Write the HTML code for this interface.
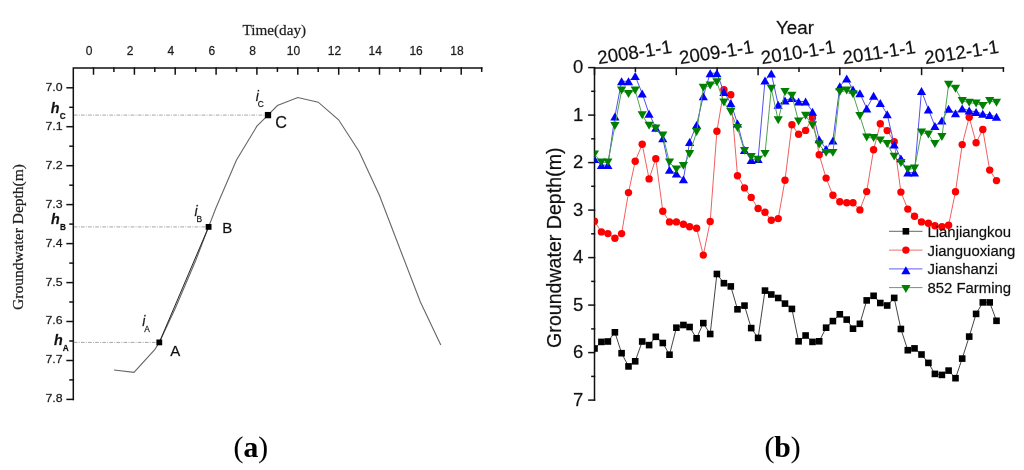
<!DOCTYPE html>
<html><head><meta charset="utf-8"><title>Groundwater depth figure</title>
<style>html,body{margin:0;padding:0;background:#fff;} svg{display:block;} text{stroke:#000;stroke-width:0.35px;stroke-opacity:0.55;}</style></head>
<body>
<svg width="1024" height="470" viewBox="0 0 1024 470">
<rect width="1024" height="470" fill="#fff"/>
<g stroke="#111" stroke-width="1.5" fill="none" stroke-linecap="square">
<path d="M73.3,399.4 V68.0 H481.7"/>
<path d="M93.5,68.0 v6"/>
<path d="M113.9,68.0 v3.2"/>
<path d="M134.4,68.0 v6"/>
<path d="M154.8,68.0 v3.2"/>
<path d="M175.2,68.0 v6"/>
<path d="M195.7,68.0 v3.2"/>
<path d="M216.1,68.0 v6"/>
<path d="M236.5,68.0 v3.2"/>
<path d="M256.9,68.0 v6"/>
<path d="M277.4,68.0 v3.2"/>
<path d="M297.8,68.0 v6"/>
<path d="M318.2,68.0 v3.2"/>
<path d="M338.7,68.0 v6"/>
<path d="M359.1,68.0 v3.2"/>
<path d="M379.5,68.0 v6"/>
<path d="M399.9,68.0 v3.2"/>
<path d="M420.4,68.0 v6"/>
<path d="M440.8,68.0 v3.2"/>
<path d="M461.2,68.0 v6"/>
<path d="M481.7,68.0 v3.2"/>
<path d="M73.3,87.8 h-6.2"/>
<path d="M73.3,107.3 h-3.3"/>
<path d="M73.3,126.7 h-6.2"/>
<path d="M73.3,146.2 h-3.3"/>
<path d="M73.3,165.7 h-6.2"/>
<path d="M73.3,185.2 h-3.3"/>
<path d="M73.3,204.6 h-6.2"/>
<path d="M73.3,224.1 h-3.3"/>
<path d="M73.3,243.6 h-6.2"/>
<path d="M73.3,263.1 h-3.3"/>
<path d="M73.3,282.6 h-6.2"/>
<path d="M73.3,302.0 h-3.3"/>
<path d="M73.3,321.5 h-6.2"/>
<path d="M73.3,341.0 h-3.3"/>
<path d="M73.3,360.5 h-6.2"/>
<path d="M73.3,379.9 h-3.3"/>
<path d="M73.3,399.4 h-6.2"/>
</g>
<g font-family="Liberation Sans, Arial, sans-serif" font-size="12" fill="#222" text-anchor="middle">
<text x="89.2" y="54.5">0</text>
<text x="130.1" y="54.5">2</text>
<text x="170.9" y="54.5">4</text>
<text x="211.8" y="54.5">6</text>
<text x="252.6" y="54.5">8</text>
<text x="293.5" y="54.5">10</text>
<text x="334.4" y="54.5">12</text>
<text x="375.2" y="54.5">14</text>
<text x="416.1" y="54.5">16</text>
<text x="456.9" y="54.5">18</text>
</g>
<g font-family="Liberation Sans, Arial, sans-serif" font-size="11" fill="#222" text-anchor="end">
<text x="62.5" y="90.8" transform="translate(62.5 0) scale(1.12 1) translate(-62.5 0)">7.0</text>
<text x="62.5" y="129.7" transform="translate(62.5 0) scale(1.12 1) translate(-62.5 0)">7.1</text>
<text x="62.5" y="168.7" transform="translate(62.5 0) scale(1.12 1) translate(-62.5 0)">7.2</text>
<text x="62.5" y="207.6" transform="translate(62.5 0) scale(1.12 1) translate(-62.5 0)">7.3</text>
<text x="62.5" y="246.6" transform="translate(62.5 0) scale(1.12 1) translate(-62.5 0)">7.4</text>
<text x="62.5" y="285.6" transform="translate(62.5 0) scale(1.12 1) translate(-62.5 0)">7.5</text>
<text x="62.5" y="324.5" transform="translate(62.5 0) scale(1.12 1) translate(-62.5 0)">7.6</text>
<text x="62.5" y="363.5" transform="translate(62.5 0) scale(1.12 1) translate(-62.5 0)">7.7</text>
<text x="62.5" y="402.4" transform="translate(62.5 0) scale(1.12 1) translate(-62.5 0)">7.8</text>
</g>
<text x="242.5" y="35.2" font-family="Liberation Serif, Times New Roman, serif" font-size="15.2" fill="#222">Time(day)</text>
<text transform="translate(22.6 237.0) rotate(-90)" text-anchor="middle" font-family="Liberation Serif, Times New Roman, serif" font-size="15.5" fill="#222">Groundwater Depth(m)</text>
<g stroke="#9a9a9a" stroke-width="0.9" stroke-dasharray="3.6 1.3 0.9 1.3" fill="none">
<path d="M73.89999999999999,342.4 H159.3"/>
<path d="M73.89999999999999,226.9 H208.6"/>
<path d="M73.89999999999999,115.1 H268.0"/>
</g>
<polyline fill="none" stroke="#666" stroke-width="1.1" points="114,370 134,372.3 154.7,349.7 159.3,342.4 175.2,308.5 195.7,260.5 208.6,226.9 216.1,207.5 236.5,160 256.9,126.2 268.0,115.1 277.4,105.5 297.8,97.5 318.2,102.2 338.6,119.8 359.1,151.5 379.5,195.5 400,249 420.4,302 440.8,345"/>
<path d="M159.3,342.4 L208.6,226.9" stroke="#222" stroke-width="1"/>
<rect x="156.40" y="339.50" width="5.8" height="5.8" fill="#000"/>
<rect x="205.70" y="224.00" width="5.8" height="5.8" fill="#000"/>
<rect x="264.85" y="111.95" width="6.3" height="6.3" fill="#000"/>
<g font-family="Liberation Sans, Arial, sans-serif" font-size="15" fill="#111">
<text x="170.2" y="356.0">A</text>
<text x="222.3" y="232.9">B</text>
<text x="275.2" y="127.7" font-size="16.2">C</text>
</g>
<text x="142.2" y="326.2" font-family="Liberation Sans, Arial, sans-serif" font-style="italic" font-size="14" fill="#222">i</text>
<text x="144.2" y="332.3" font-family="Liberation Sans, Arial, sans-serif" font-size="8.4" fill="#222">A</text>
<text x="194.4" y="215.8" font-family="Liberation Sans, Arial, sans-serif" font-style="italic" font-size="14" fill="#222">i</text>
<text x="196.4" y="221.9" font-family="Liberation Sans, Arial, sans-serif" font-size="8.4" fill="#222">B</text>
<text x="255.8" y="100.6" font-family="Liberation Sans, Arial, sans-serif" font-style="italic" font-size="14" fill="#222">i</text>
<text x="257.8" y="106.69999999999999" font-family="Liberation Sans, Arial, sans-serif" font-size="8.4" fill="#222">C</text>
<text x="50.8" y="113.0" font-family="Liberation Sans, Arial, sans-serif" font-style="italic" font-weight="bold" font-size="14.3" fill="#111">h</text>
<text x="59.699999999999996" y="119.0" font-family="Liberation Sans, Arial, sans-serif" font-weight="bold" font-size="8.2" fill="#111">C</text>
<text x="51.0" y="224.3" font-family="Liberation Sans, Arial, sans-serif" font-style="italic" font-weight="bold" font-size="14.3" fill="#111">h</text>
<text x="59.9" y="230.3" font-family="Liberation Sans, Arial, sans-serif" font-weight="bold" font-size="8.2" fill="#111">B</text>
<text x="53.9" y="345.2" font-family="Liberation Sans, Arial, sans-serif" font-style="italic" font-weight="bold" font-size="14.3" fill="#111">h</text>
<text x="62.8" y="351.2" font-family="Liberation Sans, Arial, sans-serif" font-weight="bold" font-size="8.2" fill="#111">A</text>
<g stroke="#111" stroke-width="1.5" fill="none" stroke-linecap="square">
<path d="M594.5,400.1 V68.0 H1003.4"/>
<path d="M594.5,68.0 v6.4"/>
<path d="M635.4,68.0 v3.2"/>
<path d="M676.3,68.0 v6.4"/>
<path d="M717.2,68.0 v3.2"/>
<path d="M758.1,68.0 v6.4"/>
<path d="M799.0,68.0 v3.2"/>
<path d="M839.8,68.0 v6.4"/>
<path d="M880.7,68.0 v3.2"/>
<path d="M921.6,68.0 v6.4"/>
<path d="M962.5,68.0 v3.2"/>
<path d="M1003.4,68.0 v3.2"/>
<path d="M594.5,67.6 h-5.6"/>
<path d="M594.5,91.3 h-2.6"/>
<path d="M594.5,115.1 h-5.6"/>
<path d="M594.5,138.8 h-2.6"/>
<path d="M594.5,162.6 h-5.6"/>
<path d="M594.5,186.3 h-2.6"/>
<path d="M594.5,210.1 h-5.6"/>
<path d="M594.5,233.8 h-2.6"/>
<path d="M594.5,257.6 h-5.6"/>
<path d="M594.5,281.4 h-2.6"/>
<path d="M594.5,305.1 h-5.6"/>
<path d="M594.5,328.9 h-2.6"/>
<path d="M594.5,352.6 h-5.6"/>
<path d="M594.5,376.4 h-2.6"/>
<path d="M594.5,400.1 h-5.6"/>
</g>
<g font-family="Liberation Sans, Arial, sans-serif" font-size="18.5" fill="#111" text-anchor="end">
<text x="583.3" y="73.0">0</text>
<text x="583.3" y="120.5">1</text>
<text x="583.3" y="168.0">2</text>
<text x="583.3" y="215.5">3</text>
<text x="583.3" y="263.0">4</text>
<text x="583.3" y="310.5">5</text>
<text x="583.3" y="358.0">6</text>
<text x="583.3" y="405.5">7</text>
</g>
<g font-family="Liberation Sans, Arial, sans-serif" font-size="18.7" fill="#111">
<text transform="translate(598.5 64.2) rotate(-8.8)">2008-1-1</text>
<text transform="translate(680.3 64.2) rotate(-8.8)">2009-1-1</text>
<text transform="translate(762.1 64.2) rotate(-8.8)">2010-1-1</text>
<text transform="translate(843.8 64.2) rotate(-8.8)">2011-1-1</text>
<text transform="translate(925.6 64.2) rotate(-8.8)">2012-1-1</text>
</g>
<text x="776" y="33.5" font-family="Liberation Sans, Arial, sans-serif" font-size="18.8" fill="#111">Year</text>
<text transform="translate(560.5 247.7) rotate(-90)" text-anchor="middle" font-family="Liberation Sans, Arial, sans-serif" font-size="19.6" fill="#111">Groundwater Depth(m)</text>
<defs><clipPath id="pc"><rect x="594.5" y="62.0" width="416.9" height="344.1"/></clipPath></defs>
<g clip-path="url(#pc)">
<polyline fill="none" stroke="#444" stroke-width="1" points="594.5,348.5 601.4,341.9 607.9,341.5 614.9,332.3 621.6,353.2 628.5,366.4 635.2,361.3 642.2,341.5 649.1,345.1 655.8,336.8 662.8,343 669.5,354.7 676.4,327.7 683.4,325 689.6,327 696.6,338.3 703.3,323.1 710.2,334 716.9,274 723.9,283.2 730.8,286.4 737.5,309.3 744.5,305.6 751.2,328.1 758.1,337.9 765.0,290.6 771.3,294.5 778.2,298 785.0,303.6 791.9,308.9 798.6,341.3 805.6,335.5 812.5,341.9 819.2,341.3 826.1,327.7 832.9,321.1 839.8,314.3 846.7,319.6 853.0,328.7 859.9,323.8 866.7,300.4 873.6,295.8 880.3,303 887.2,305.5 894.2,297.9 900.9,329 907.8,350.2 914.5,348.4 921.5,354.5 928.4,362.9 934.9,373.9 941.9,374.9 948.6,370.6 955.5,378.2 962.2,358.6 969.2,336.6 976.1,313.9 982.8,302.4 989.7,302.4 996.5,320.8"/>
<rect x="591.2" y="345.2" width="6.6" height="6.6" fill="#000"/>
<rect x="598.1" y="338.6" width="6.6" height="6.6" fill="#000"/>
<rect x="604.6" y="338.2" width="6.6" height="6.6" fill="#000"/>
<rect x="611.6" y="329.0" width="6.6" height="6.6" fill="#000"/>
<rect x="618.3" y="349.9" width="6.6" height="6.6" fill="#000"/>
<rect x="625.2" y="363.1" width="6.6" height="6.6" fill="#000"/>
<rect x="631.9" y="358.0" width="6.6" height="6.6" fill="#000"/>
<rect x="638.9" y="338.2" width="6.6" height="6.6" fill="#000"/>
<rect x="645.8" y="341.8" width="6.6" height="6.6" fill="#000"/>
<rect x="652.5" y="333.5" width="6.6" height="6.6" fill="#000"/>
<rect x="659.5" y="339.7" width="6.6" height="6.6" fill="#000"/>
<rect x="666.2" y="351.4" width="6.6" height="6.6" fill="#000"/>
<rect x="673.1" y="324.4" width="6.6" height="6.6" fill="#000"/>
<rect x="680.1" y="321.7" width="6.6" height="6.6" fill="#000"/>
<rect x="686.3" y="323.7" width="6.6" height="6.6" fill="#000"/>
<rect x="693.3" y="335.0" width="6.6" height="6.6" fill="#000"/>
<rect x="700.0" y="319.8" width="6.6" height="6.6" fill="#000"/>
<rect x="706.9" y="330.7" width="6.6" height="6.6" fill="#000"/>
<rect x="713.6" y="270.7" width="6.6" height="6.6" fill="#000"/>
<rect x="720.6" y="279.9" width="6.6" height="6.6" fill="#000"/>
<rect x="727.5" y="283.1" width="6.6" height="6.6" fill="#000"/>
<rect x="734.2" y="306.0" width="6.6" height="6.6" fill="#000"/>
<rect x="741.2" y="302.3" width="6.6" height="6.6" fill="#000"/>
<rect x="747.9" y="324.8" width="6.6" height="6.6" fill="#000"/>
<rect x="754.8" y="334.6" width="6.6" height="6.6" fill="#000"/>
<rect x="761.7" y="287.3" width="6.6" height="6.6" fill="#000"/>
<rect x="768.0" y="291.2" width="6.6" height="6.6" fill="#000"/>
<rect x="774.9" y="294.7" width="6.6" height="6.6" fill="#000"/>
<rect x="781.7" y="300.3" width="6.6" height="6.6" fill="#000"/>
<rect x="788.6" y="305.6" width="6.6" height="6.6" fill="#000"/>
<rect x="795.3" y="338.0" width="6.6" height="6.6" fill="#000"/>
<rect x="802.3" y="332.2" width="6.6" height="6.6" fill="#000"/>
<rect x="809.2" y="338.6" width="6.6" height="6.6" fill="#000"/>
<rect x="815.9" y="338.0" width="6.6" height="6.6" fill="#000"/>
<rect x="822.8" y="324.4" width="6.6" height="6.6" fill="#000"/>
<rect x="829.6" y="317.8" width="6.6" height="6.6" fill="#000"/>
<rect x="836.5" y="311.0" width="6.6" height="6.6" fill="#000"/>
<rect x="843.4" y="316.3" width="6.6" height="6.6" fill="#000"/>
<rect x="849.7" y="325.4" width="6.6" height="6.6" fill="#000"/>
<rect x="856.6" y="320.5" width="6.6" height="6.6" fill="#000"/>
<rect x="863.4" y="297.1" width="6.6" height="6.6" fill="#000"/>
<rect x="870.3" y="292.5" width="6.6" height="6.6" fill="#000"/>
<rect x="877.0" y="299.7" width="6.6" height="6.6" fill="#000"/>
<rect x="883.9" y="302.2" width="6.6" height="6.6" fill="#000"/>
<rect x="890.9" y="294.6" width="6.6" height="6.6" fill="#000"/>
<rect x="897.6" y="325.7" width="6.6" height="6.6" fill="#000"/>
<rect x="904.5" y="346.9" width="6.6" height="6.6" fill="#000"/>
<rect x="911.2" y="345.1" width="6.6" height="6.6" fill="#000"/>
<rect x="918.2" y="351.2" width="6.6" height="6.6" fill="#000"/>
<rect x="925.1" y="359.6" width="6.6" height="6.6" fill="#000"/>
<rect x="931.6" y="370.6" width="6.6" height="6.6" fill="#000"/>
<rect x="938.6" y="371.6" width="6.6" height="6.6" fill="#000"/>
<rect x="945.3" y="367.3" width="6.6" height="6.6" fill="#000"/>
<rect x="952.2" y="374.9" width="6.6" height="6.6" fill="#000"/>
<rect x="958.9" y="355.3" width="6.6" height="6.6" fill="#000"/>
<rect x="965.9" y="333.3" width="6.6" height="6.6" fill="#000"/>
<rect x="972.8" y="310.6" width="6.6" height="6.6" fill="#000"/>
<rect x="979.5" y="299.1" width="6.6" height="6.6" fill="#000"/>
<rect x="986.4" y="299.1" width="6.6" height="6.6" fill="#000"/>
<rect x="993.2" y="317.5" width="6.6" height="6.6" fill="#000"/>
<polyline fill="none" stroke="#f06060" stroke-width="1" points="594.5,221.3 601.4,231.9 607.9,233.6 614.9,238.3 621.6,233.6 628.5,192.6 635.2,161.3 642.2,144.3 649.1,178.9 655.8,158.7 662.8,211.3 669.5,221.9 676.4,221.9 683.4,224.3 689.6,226.8 696.6,228.3 703.3,255.1 710.2,221.5 716.9,131.3 723.9,89.8 730.8,94.7 737.5,175.7 744.5,187.9 751.2,197.4 758.1,208.5 765.0,212.3 771.3,220.3 778.2,218.6 785.0,180.2 791.9,124.7 798.6,134.3 805.6,130.4 812.5,117.7 819.2,154.7 826.1,178.1 832.9,195.3 839.8,201.7 846.7,202.8 853.0,202.8 859.9,209.9 866.7,191.6 873.6,149.8 880.3,123.8 887.2,130.6 894.2,141.8 900.9,192.1 907.8,209.1 914.5,216.2 921.5,221.9 928.4,223.2 934.9,225.7 941.9,226.7 948.6,225.3 955.5,191.7 962.2,144.6 969.2,117.3 976.1,142.7 982.8,129.5 989.7,170.1 996.5,180.6"/>
<circle cx="594.5" cy="221.3" r="3.7" fill="#f00"/>
<circle cx="601.4" cy="231.9" r="3.7" fill="#f00"/>
<circle cx="607.9" cy="233.6" r="3.7" fill="#f00"/>
<circle cx="614.9" cy="238.3" r="3.7" fill="#f00"/>
<circle cx="621.6" cy="233.6" r="3.7" fill="#f00"/>
<circle cx="628.5" cy="192.6" r="3.7" fill="#f00"/>
<circle cx="635.2" cy="161.3" r="3.7" fill="#f00"/>
<circle cx="642.2" cy="144.3" r="3.7" fill="#f00"/>
<circle cx="649.1" cy="178.9" r="3.7" fill="#f00"/>
<circle cx="655.8" cy="158.7" r="3.7" fill="#f00"/>
<circle cx="662.8" cy="211.3" r="3.7" fill="#f00"/>
<circle cx="669.5" cy="221.9" r="3.7" fill="#f00"/>
<circle cx="676.4" cy="221.9" r="3.7" fill="#f00"/>
<circle cx="683.4" cy="224.3" r="3.7" fill="#f00"/>
<circle cx="689.6" cy="226.8" r="3.7" fill="#f00"/>
<circle cx="696.6" cy="228.3" r="3.7" fill="#f00"/>
<circle cx="703.3" cy="255.1" r="3.7" fill="#f00"/>
<circle cx="710.2" cy="221.5" r="3.7" fill="#f00"/>
<circle cx="716.9" cy="131.3" r="3.7" fill="#f00"/>
<circle cx="723.9" cy="89.8" r="3.7" fill="#f00"/>
<circle cx="730.8" cy="94.7" r="3.7" fill="#f00"/>
<circle cx="737.5" cy="175.7" r="3.7" fill="#f00"/>
<circle cx="744.5" cy="187.9" r="3.7" fill="#f00"/>
<circle cx="751.2" cy="197.4" r="3.7" fill="#f00"/>
<circle cx="758.1" cy="208.5" r="3.7" fill="#f00"/>
<circle cx="765.0" cy="212.3" r="3.7" fill="#f00"/>
<circle cx="771.3" cy="220.3" r="3.7" fill="#f00"/>
<circle cx="778.2" cy="218.6" r="3.7" fill="#f00"/>
<circle cx="785.0" cy="180.2" r="3.7" fill="#f00"/>
<circle cx="791.9" cy="124.7" r="3.7" fill="#f00"/>
<circle cx="798.6" cy="134.3" r="3.7" fill="#f00"/>
<circle cx="805.6" cy="130.4" r="3.7" fill="#f00"/>
<circle cx="812.5" cy="117.7" r="3.7" fill="#f00"/>
<circle cx="819.2" cy="154.7" r="3.7" fill="#f00"/>
<circle cx="826.1" cy="178.1" r="3.7" fill="#f00"/>
<circle cx="832.9" cy="195.3" r="3.7" fill="#f00"/>
<circle cx="839.8" cy="201.7" r="3.7" fill="#f00"/>
<circle cx="846.7" cy="202.8" r="3.7" fill="#f00"/>
<circle cx="853.0" cy="202.8" r="3.7" fill="#f00"/>
<circle cx="859.9" cy="209.9" r="3.7" fill="#f00"/>
<circle cx="866.7" cy="191.6" r="3.7" fill="#f00"/>
<circle cx="873.6" cy="149.8" r="3.7" fill="#f00"/>
<circle cx="880.3" cy="123.8" r="3.7" fill="#f00"/>
<circle cx="887.2" cy="130.6" r="3.7" fill="#f00"/>
<circle cx="894.2" cy="141.8" r="3.7" fill="#f00"/>
<circle cx="900.9" cy="192.1" r="3.7" fill="#f00"/>
<circle cx="907.8" cy="209.1" r="3.7" fill="#f00"/>
<circle cx="914.5" cy="216.2" r="3.7" fill="#f00"/>
<circle cx="921.5" cy="221.9" r="3.7" fill="#f00"/>
<circle cx="928.4" cy="223.2" r="3.7" fill="#f00"/>
<circle cx="934.9" cy="225.7" r="3.7" fill="#f00"/>
<circle cx="941.9" cy="226.7" r="3.7" fill="#f00"/>
<circle cx="948.6" cy="225.3" r="3.7" fill="#f00"/>
<circle cx="955.5" cy="191.7" r="3.7" fill="#f00"/>
<circle cx="962.2" cy="144.6" r="3.7" fill="#f00"/>
<circle cx="969.2" cy="117.3" r="3.7" fill="#f00"/>
<circle cx="976.1" cy="142.7" r="3.7" fill="#f00"/>
<circle cx="982.8" cy="129.5" r="3.7" fill="#f00"/>
<circle cx="989.7" cy="170.1" r="3.7" fill="#f00"/>
<circle cx="996.5" cy="180.6" r="3.7" fill="#f00"/>
<polyline fill="none" stroke="#5050f0" stroke-width="1" points="594.5,159.1 601.4,165.1 607.9,165.1 614.9,116.4 621.6,81.3 628.5,81.3 635.2,76 642.2,93.6 649.1,113.8 655.8,127.7 662.8,138.3 669.5,169.8 676.4,173.6 683.4,179.4 689.6,142 696.6,124.9 703.3,96.2 710.2,73.2 716.9,73.2 723.9,91.9 730.8,103.2 737.5,123.4 744.5,150 751.2,160.2 758.1,159.1 765.0,80.4 771.3,73.4 778.2,104.7 785.0,100.6 791.9,98 798.6,101.5 805.6,101.5 812.5,111.7 819.2,139.4 826.1,148.9 832.9,140.6 839.8,86.2 846.7,78.5 853.0,89.6 859.9,93.2 866.7,108.4 873.6,95.8 880.3,103 887.2,114.3 894.2,144.5 900.9,158.4 907.8,172.6 914.5,172.6 921.5,90.9 928.4,109.4 934.9,126 941.9,120.6 948.6,108.8 955.5,113.2 962.2,108.4 969.2,110.6 976.1,111.9 982.8,113.8 989.7,115.1 996.5,116.7"/>
<path d="M594.5,155.2 L599.1,163.0 L589.9,163.0Z" fill="#00f"/>
<path d="M601.4,161.2 L606.0,169.0 L596.8,169.0Z" fill="#00f"/>
<path d="M607.9,161.2 L612.5,169.0 L603.3,169.0Z" fill="#00f"/>
<path d="M614.9,112.5 L619.5,120.4 L610.3,120.4Z" fill="#00f"/>
<path d="M621.6,77.3 L626.2,85.2 L617.0,85.2Z" fill="#00f"/>
<path d="M628.5,77.3 L633.1,85.2 L623.9,85.2Z" fill="#00f"/>
<path d="M635.2,72.0 L639.8,80.0 L630.6,80.0Z" fill="#00f"/>
<path d="M642.2,89.6 L646.8,97.5 L637.6,97.5Z" fill="#00f"/>
<path d="M649.1,109.8 L653.7,117.8 L644.5,117.8Z" fill="#00f"/>
<path d="M655.8,123.8 L660.4,131.7 L651.2,131.7Z" fill="#00f"/>
<path d="M662.8,134.4 L667.4,142.2 L658.2,142.2Z" fill="#00f"/>
<path d="M669.5,165.9 L674.1,173.8 L664.9,173.8Z" fill="#00f"/>
<path d="M676.4,169.7 L681.0,177.5 L671.8,177.5Z" fill="#00f"/>
<path d="M683.4,175.5 L688.0,183.3 L678.8,183.3Z" fill="#00f"/>
<path d="M689.6,138.1 L694.2,145.9 L685.0,145.9Z" fill="#00f"/>
<path d="M696.6,121.0 L701.2,128.8 L692.0,128.8Z" fill="#00f"/>
<path d="M703.3,92.2 L707.9,100.2 L698.7,100.2Z" fill="#00f"/>
<path d="M710.2,69.2 L714.8,77.2 L705.6,77.2Z" fill="#00f"/>
<path d="M716.9,69.2 L721.5,77.2 L712.3,77.2Z" fill="#00f"/>
<path d="M723.9,88.0 L728.5,95.9 L719.3,95.9Z" fill="#00f"/>
<path d="M730.8,99.2 L735.4,107.2 L726.2,107.2Z" fill="#00f"/>
<path d="M737.5,119.5 L742.1,127.4 L732.9,127.4Z" fill="#00f"/>
<path d="M744.5,146.1 L749.1,153.9 L739.9,153.9Z" fill="#00f"/>
<path d="M751.2,156.2 L755.8,164.1 L746.6,164.1Z" fill="#00f"/>
<path d="M758.1,155.2 L762.7,163.0 L753.5,163.0Z" fill="#00f"/>
<path d="M765.0,76.5 L769.6,84.4 L760.4,84.4Z" fill="#00f"/>
<path d="M771.3,69.5 L775.9,77.4 L766.7,77.4Z" fill="#00f"/>
<path d="M778.2,100.8 L782.8,108.7 L773.6,108.7Z" fill="#00f"/>
<path d="M785.0,96.6 L789.6,104.5 L780.4,104.5Z" fill="#00f"/>
<path d="M791.9,94.0 L796.5,102.0 L787.3,102.0Z" fill="#00f"/>
<path d="M798.6,97.5 L803.2,105.5 L794.0,105.5Z" fill="#00f"/>
<path d="M805.6,97.5 L810.2,105.5 L801.0,105.5Z" fill="#00f"/>
<path d="M812.5,107.8 L817.1,115.7 L807.9,115.7Z" fill="#00f"/>
<path d="M819.2,135.5 L823.8,143.3 L814.6,143.3Z" fill="#00f"/>
<path d="M826.1,145.0 L830.7,152.8 L821.5,152.8Z" fill="#00f"/>
<path d="M832.9,136.7 L837.5,144.5 L828.3,144.5Z" fill="#00f"/>
<path d="M839.8,82.2 L844.4,90.2 L835.2,90.2Z" fill="#00f"/>
<path d="M846.7,74.5 L851.3,82.5 L842.1,82.5Z" fill="#00f"/>
<path d="M853.0,85.6 L857.6,93.5 L848.4,93.5Z" fill="#00f"/>
<path d="M859.9,89.2 L864.5,97.2 L855.3,97.2Z" fill="#00f"/>
<path d="M866.7,104.5 L871.3,112.4 L862.1,112.4Z" fill="#00f"/>
<path d="M873.6,91.8 L878.2,99.8 L869.0,99.8Z" fill="#00f"/>
<path d="M880.3,99.0 L884.9,107.0 L875.7,107.0Z" fill="#00f"/>
<path d="M887.2,110.3 L891.8,118.2 L882.6,118.2Z" fill="#00f"/>
<path d="M894.2,140.6 L898.8,148.4 L889.6,148.4Z" fill="#00f"/>
<path d="M900.9,154.5 L905.5,162.3 L896.3,162.3Z" fill="#00f"/>
<path d="M907.8,168.7 L912.4,176.5 L903.2,176.5Z" fill="#00f"/>
<path d="M914.5,168.7 L919.1,176.5 L909.9,176.5Z" fill="#00f"/>
<path d="M921.5,87.0 L926.1,94.9 L916.9,94.9Z" fill="#00f"/>
<path d="M928.4,105.5 L933.0,113.4 L923.8,113.4Z" fill="#00f"/>
<path d="M934.9,122.0 L939.5,129.9 L930.3,129.9Z" fill="#00f"/>
<path d="M941.9,116.6 L946.5,124.5 L937.3,124.5Z" fill="#00f"/>
<path d="M948.6,104.8 L953.2,112.8 L944.0,112.8Z" fill="#00f"/>
<path d="M955.5,109.2 L960.1,117.2 L950.9,117.2Z" fill="#00f"/>
<path d="M962.2,104.5 L966.8,112.4 L957.6,112.4Z" fill="#00f"/>
<path d="M969.2,106.6 L973.8,114.5 L964.6,114.5Z" fill="#00f"/>
<path d="M976.1,108.0 L980.7,115.9 L971.5,115.9Z" fill="#00f"/>
<path d="M982.8,109.8 L987.4,117.8 L978.2,117.8Z" fill="#00f"/>
<path d="M989.7,111.1 L994.3,119.0 L985.1,119.0Z" fill="#00f"/>
<path d="M996.5,112.8 L1001.1,120.7 L991.9,120.7Z" fill="#00f"/>
<polyline fill="none" stroke="#50a050" stroke-width="1" points="594.5,154.4 601.4,162.3 607.9,162.3 614.9,126 621.6,90.4 628.5,94 635.2,90.4 642.2,115.3 649.1,125.7 655.8,128.6 662.8,135.5 669.5,162.3 676.4,169.4 683.4,165.8 689.6,154 696.6,132 703.3,87.7 710.2,85.5 716.9,82.3 723.9,102.6 730.8,112.1 737.5,128.1 744.5,150.8 751.2,157 758.1,159.6 765.0,153.8 771.3,88.7 778.2,120.2 785.0,91.9 791.9,95.7 798.6,121.5 805.6,115.7 812.5,125.3 819.2,144.5 826.1,152.8 832.9,152.8 839.8,91.9 846.7,90.6 853.0,94.2 859.9,116 866.7,137.5 873.6,138 880.3,140.4 887.2,144 894.2,156.7 900.9,163 907.8,169.4 914.5,168.3 921.5,132.3 928.4,134.5 934.9,144 941.9,137 948.6,84.7 955.5,88.7 962.2,100.9 969.2,102.8 976.1,103.4 982.8,106 989.7,100.9 996.5,102.8"/>
<path d="M594.5,158.3 L599.1,150.5 L589.9,150.5Z" fill="#008000"/>
<path d="M601.4,166.2 L606.0,158.4 L596.8,158.4Z" fill="#008000"/>
<path d="M607.9,166.2 L612.5,158.4 L603.3,158.4Z" fill="#008000"/>
<path d="M614.9,129.9 L619.5,122.0 L610.3,122.0Z" fill="#008000"/>
<path d="M621.6,94.4 L626.2,86.5 L617.0,86.5Z" fill="#008000"/>
<path d="M628.5,98.0 L633.1,90.0 L623.9,90.0Z" fill="#008000"/>
<path d="M635.2,94.4 L639.8,86.5 L630.6,86.5Z" fill="#008000"/>
<path d="M642.2,119.2 L646.8,111.3 L637.6,111.3Z" fill="#008000"/>
<path d="M649.1,129.7 L653.7,121.8 L644.5,121.8Z" fill="#008000"/>
<path d="M655.8,132.5 L660.4,124.6 L651.2,124.6Z" fill="#008000"/>
<path d="M662.8,139.4 L667.4,131.6 L658.2,131.6Z" fill="#008000"/>
<path d="M669.5,166.2 L674.1,158.4 L664.9,158.4Z" fill="#008000"/>
<path d="M676.4,173.3 L681.0,165.5 L671.8,165.5Z" fill="#008000"/>
<path d="M683.4,169.8 L688.0,161.9 L678.8,161.9Z" fill="#008000"/>
<path d="M689.6,157.9 L694.2,150.1 L685.0,150.1Z" fill="#008000"/>
<path d="M696.6,135.9 L701.2,128.1 L692.0,128.1Z" fill="#008000"/>
<path d="M703.3,91.7 L707.9,83.8 L698.7,83.8Z" fill="#008000"/>
<path d="M710.2,89.5 L714.8,81.5 L705.6,81.5Z" fill="#008000"/>
<path d="M716.9,86.2 L721.5,78.3 L712.3,78.3Z" fill="#008000"/>
<path d="M723.9,106.5 L728.5,98.6 L719.3,98.6Z" fill="#008000"/>
<path d="M730.8,116.0 L735.4,108.1 L726.2,108.1Z" fill="#008000"/>
<path d="M737.5,132.0 L742.1,124.1 L732.9,124.1Z" fill="#008000"/>
<path d="M744.5,154.8 L749.1,146.9 L739.9,146.9Z" fill="#008000"/>
<path d="M751.2,160.9 L755.8,153.1 L746.6,153.1Z" fill="#008000"/>
<path d="M758.1,163.5 L762.7,155.7 L753.5,155.7Z" fill="#008000"/>
<path d="M765.0,157.8 L769.6,149.9 L760.4,149.9Z" fill="#008000"/>
<path d="M771.3,92.7 L775.9,84.8 L766.7,84.8Z" fill="#008000"/>
<path d="M778.2,124.2 L782.8,116.2 L773.6,116.2Z" fill="#008000"/>
<path d="M785.0,95.9 L789.6,88.0 L780.4,88.0Z" fill="#008000"/>
<path d="M791.9,99.7 L796.5,91.8 L787.3,91.8Z" fill="#008000"/>
<path d="M798.6,125.5 L803.2,117.5 L794.0,117.5Z" fill="#008000"/>
<path d="M805.6,119.7 L810.2,111.8 L801.0,111.8Z" fill="#008000"/>
<path d="M812.5,129.2 L817.1,121.3 L807.9,121.3Z" fill="#008000"/>
<path d="M819.2,148.4 L823.8,140.6 L814.6,140.6Z" fill="#008000"/>
<path d="M826.1,156.8 L830.7,148.9 L821.5,148.9Z" fill="#008000"/>
<path d="M832.9,156.8 L837.5,148.9 L828.3,148.9Z" fill="#008000"/>
<path d="M839.8,95.9 L844.4,88.0 L835.2,88.0Z" fill="#008000"/>
<path d="M846.7,94.5 L851.3,86.6 L842.1,86.6Z" fill="#008000"/>
<path d="M853.0,98.2 L857.6,90.2 L848.4,90.2Z" fill="#008000"/>
<path d="M859.9,120.0 L864.5,112.0 L855.3,112.0Z" fill="#008000"/>
<path d="M866.7,141.4 L871.3,133.6 L862.1,133.6Z" fill="#008000"/>
<path d="M873.6,141.9 L878.2,134.1 L869.0,134.1Z" fill="#008000"/>
<path d="M880.3,144.3 L884.9,136.5 L875.7,136.5Z" fill="#008000"/>
<path d="M887.2,147.9 L891.8,140.1 L882.6,140.1Z" fill="#008000"/>
<path d="M894.2,160.6 L898.8,152.8 L889.6,152.8Z" fill="#008000"/>
<path d="M900.9,166.9 L905.5,159.1 L896.3,159.1Z" fill="#008000"/>
<path d="M907.8,173.3 L912.4,165.5 L903.2,165.5Z" fill="#008000"/>
<path d="M914.5,172.2 L919.1,164.4 L909.9,164.4Z" fill="#008000"/>
<path d="M921.5,136.2 L926.1,128.4 L916.9,128.4Z" fill="#008000"/>
<path d="M928.4,138.4 L933.0,130.6 L923.8,130.6Z" fill="#008000"/>
<path d="M934.9,147.9 L939.5,140.1 L930.3,140.1Z" fill="#008000"/>
<path d="M941.9,140.9 L946.5,133.1 L937.3,133.1Z" fill="#008000"/>
<path d="M948.6,88.7 L953.2,80.8 L944.0,80.8Z" fill="#008000"/>
<path d="M955.5,92.7 L960.1,84.8 L950.9,84.8Z" fill="#008000"/>
<path d="M962.2,104.9 L966.8,97.0 L957.6,97.0Z" fill="#008000"/>
<path d="M969.2,106.8 L973.8,98.8 L964.6,98.8Z" fill="#008000"/>
<path d="M976.1,107.4 L980.7,99.5 L971.5,99.5Z" fill="#008000"/>
<path d="M982.8,110.0 L987.4,102.0 L978.2,102.0Z" fill="#008000"/>
<path d="M989.7,104.9 L994.3,97.0 L985.1,97.0Z" fill="#008000"/>
<path d="M996.5,106.8 L1001.1,98.8 L991.9,98.8Z" fill="#008000"/>
</g>
<path d="M889,231.3 H922.5" stroke="#666" stroke-width="1"/>
<rect x="902.6" y="228.0" width="6.6" height="6.6" fill="#000"/>
<text x="927.5" y="236.9" font-family="Liberation Sans, Arial, sans-serif" font-size="14.9" fill="#111">Lianjiangkou</text>
<path d="M889,250.1 H922.5" stroke="#f07070" stroke-width="1"/>
<circle cx="905.9" cy="250.1" r="3.7" fill="#f00"/>
<text x="927.5" y="255.6" font-family="Liberation Sans, Arial, sans-serif" font-size="14.9" fill="#111">Jianguoxiang</text>
<path d="M889,268.9 H922.5" stroke="#6060f0" stroke-width="1"/>
<path d="M905.9,266.3 L910.5,274.2 L901.3,274.2Z" fill="#00f"/>
<text x="927.5" y="274.3" font-family="Liberation Sans, Arial, sans-serif" font-size="14.9" fill="#111">Jianshanzi</text>
<path d="M889,287.6 H922.5" stroke="#60a060" stroke-width="1"/>
<path d="M905.9,292.9 L910.5,285.0 L901.3,285.0Z" fill="#008000"/>
<text x="927.5" y="293.0" font-family="Liberation Sans, Arial, sans-serif" font-size="14.9" fill="#111">852 Farming</text>
<text x="233.6" y="457.4" font-family="Liberation Serif, Times New Roman, serif" font-size="29.6" fill="#000" style="stroke-width:0.15px">(<tspan font-weight="bold">a</tspan>)</text>
<text x="764.4" y="457.4" font-family="Liberation Serif, Times New Roman, serif" font-size="29.6" fill="#000" style="stroke-width:0.15px">(<tspan font-weight="bold">b</tspan>)</text>
</svg>
</body></html>
